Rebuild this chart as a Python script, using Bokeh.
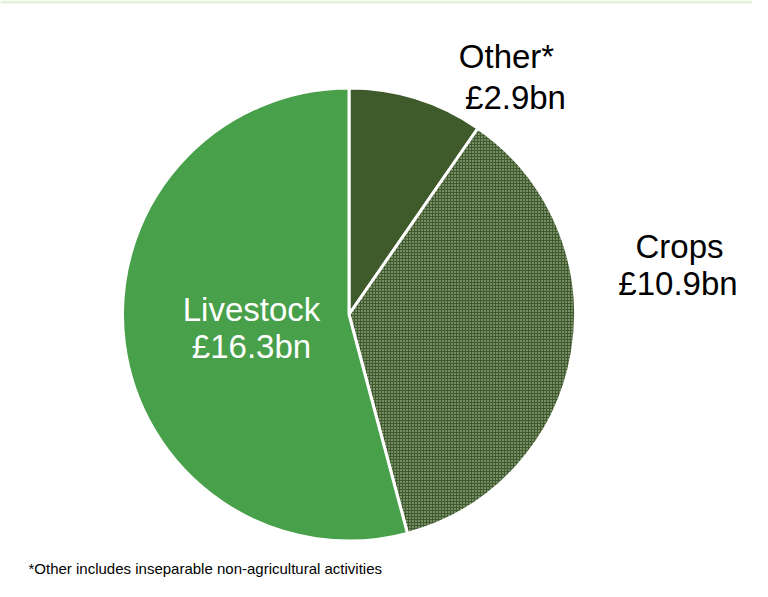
import math
from bokeh.plotting import figure
from bokeh.models import Range1d, ColumnDataSource, BoxAnnotation
from bokeh.core.properties import value
from bokeh.embed import file_html
from bokeh.resources import INLINE

# ---- data ----
categories = ["Other*", "Crops", "Livestock"]
values_bn = [2.9, 10.9, 16.3]
value_labels = ["£2.9bn", "£10.9bn", "£16.3bn"]
footnote = "*Other includes inseparable non-agricultural activities"

# ---- styling / layout ----
colors = ["#3f5a2b", "#41592e", "#48a04a"]
hatches = [" ", "dot", " "]
W, H = 752, 581
FONT = "Liberation Sans"


def X(px):
    return px


def Y(py):
    return H - py


def YT(py, size):
    # baseline correction for svg text (~0.36 em)
    return H - (py - 0.36 * size)


cx, cy, r = X(348.5), Y(314), 226.5

total = sum(values_bn)
starts, ends = [], []
a = math.pi / 2
for v in values_bn:
    starts.append(a)
    a -= 2 * math.pi * v / total
    ends.append(a)

p = figure(width=W, height=H, output_backend="svg", toolbar_location=None,
           x_range=Range1d(0, W), y_range=Range1d(0, H),
           x_axis_type=None, y_axis_type=None, min_border=0)
p.grid.visible = False
p.outline_line_color = None
p.background_fill_color = "white"
p.border_fill_color = "white"

p.add_layout(BoxAnnotation(bottom=Y(3), top=H, fill_color="#e6f0da", fill_alpha=1,
                           line_color=None))

src = ColumnDataSource(dict(cat=categories, val=values_bn, start=starts, end=ends,
                            color=colors, hatch=hatches))
p.wedge(x=cx, y=cy, radius=r, start_angle="start", end_angle="end", direction="clock",
        fill_color="color", line_color="white", line_width=3,
        hatch_pattern="hatch", hatch_color="#c4d8b0", hatch_scale=3, hatch_weight=1.1,
        source=src)

LS = 33
# labels: (name x, name y, value x, value y, color)
label_pos = [
    (X(506), YT(68, LS), X(515), YT(109, LS), "black"),
    (X(679), YT(258, LS), X(677.5), YT(295, LS), "black"),
    (X(251), YT(321, LS), X(251), YT(358, LS), "white"),
]
for i, (nx, ny, vx, vy, col) in enumerate(label_pos):
    p.text(x=[nx], y=[ny], text=[categories[i]], text_font=value(FONT),
           text_font_size=f"{LS}px", text_align="center", text_baseline="alphabetic",
           text_color=col)
    p.text(x=[vx], y=[vy], text=[value_labels[i]], text_font=value(FONT),
           text_font_size=f"{LS}px", text_align="center", text_baseline="alphabetic",
           text_color=col)

FS = 15
p.text(x=[X(28)], y=[YT(573, FS)], text=[footnote], text_font=value(FONT),
       text_font_size=f"{FS}px", text_align="left", text_baseline="alphabetic",
       text_color="black")

open("out.html", "w").write(file_html(p, INLINE))
